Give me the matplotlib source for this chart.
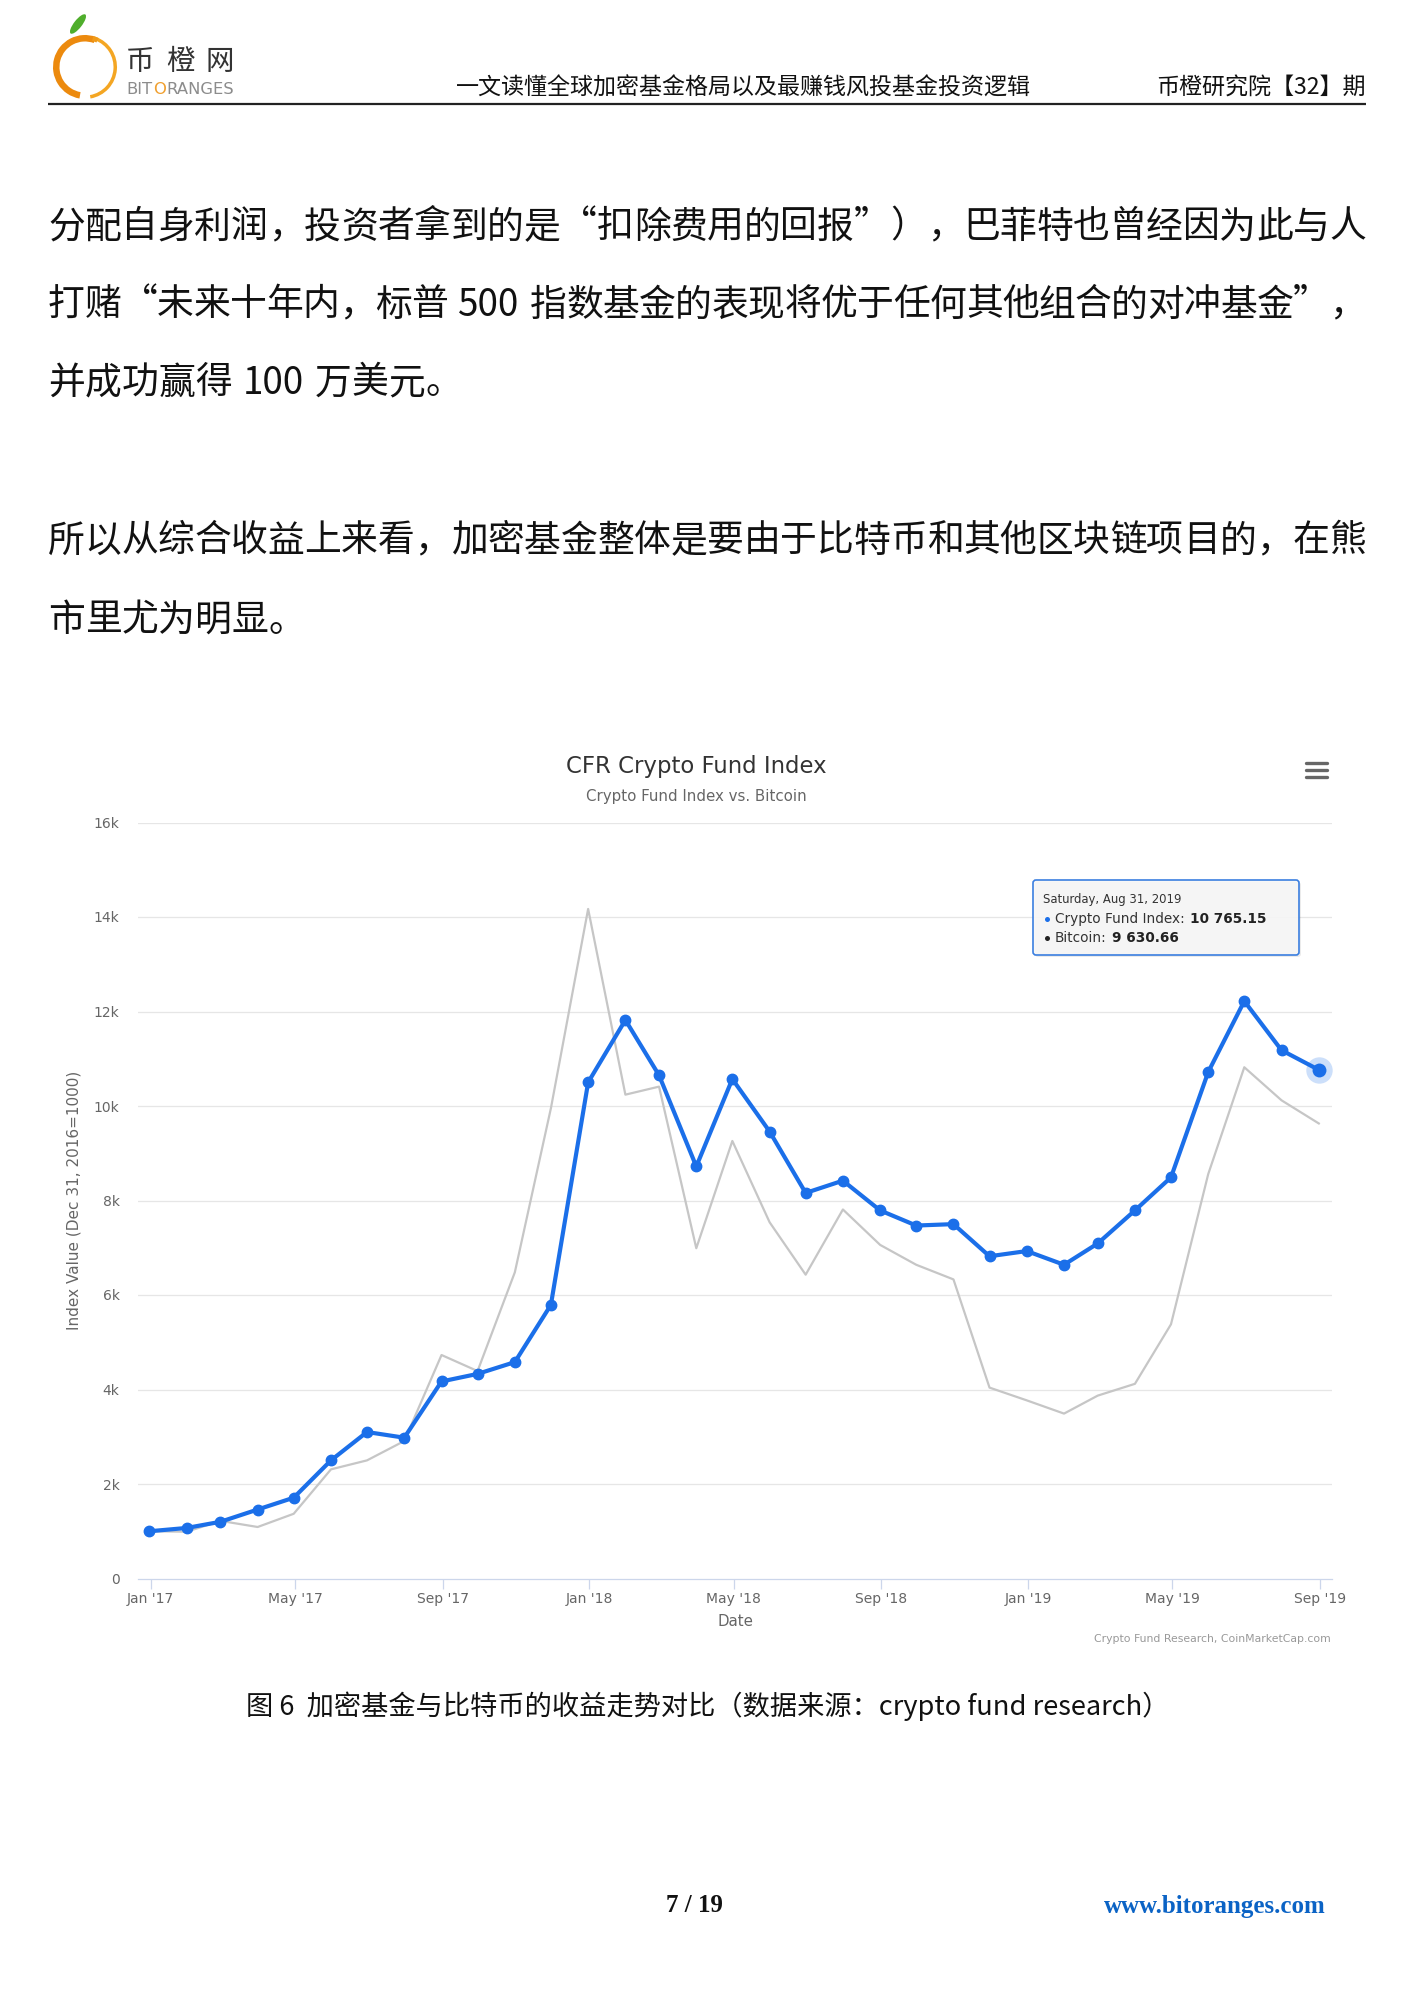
import matplotlib
matplotlib.use("Agg")
import matplotlib.pyplot as plt
import matplotlib.dates as mdates
from matplotlib.patches import FancyBboxPatch, Wedge, Ellipse, Rectangle
from matplotlib.font_manager import FontProperties
import numpy as np

# ---------------- data ----------------
dates = np.array([
    "2016-12-31", "2017-01-31", "2017-02-28", "2017-03-31", "2017-04-30", "2017-05-31",
    "2017-06-30", "2017-07-31", "2017-08-31", "2017-09-30", "2017-10-31", "2017-11-30",
    "2017-12-31", "2018-01-31", "2018-02-28", "2018-03-31", "2018-04-30", "2018-05-31",
    "2018-06-30", "2018-07-31", "2018-08-31", "2018-09-30", "2018-10-31", "2018-11-30",
    "2018-12-31", "2019-01-31", "2019-02-28", "2019-03-31", "2019-04-30", "2019-05-31",
    "2019-06-30", "2019-07-31", "2019-08-31"], dtype="datetime64[D]")

fund_index = [1000, 1070, 1200, 1460, 1710, 2500, 3100, 2980, 4170, 4330, 4580, 5790,
              10500, 11820, 10650, 8720, 10570, 9460, 8160, 8420, 7790, 7470, 7500, 6820,
              6930, 6640, 7090, 7790, 8490, 10720, 12220, 11180, 10765.15]

bitcoin = [1000, 990, 1220, 1090, 1370, 2310, 2500, 2910, 4730, 4390, 6480, 9950,
           14170, 10240, 10410, 6990, 9260, 7540, 6430, 7810, 7060, 6640, 6330, 4040,
           3770, 3490, 3870, 4120, 5380, 8560, 10820, 10120, 9630.66]

tick_dates = np.array(["2017-01-01", "2017-05-01", "2017-09-01", "2018-01-01", "2018-05-01",
                       "2018-09-01", "2019-01-01", "2019-05-01", "2019-09-01"], dtype="datetime64[D]")
tick_labels = ["Jan '17", "May '17", "Sep '17", "Jan '18", "May '18", "Sep '18",
               "Jan '19", "May '19", "Sep '19"]
y_ticks = [0, 2000, 4000, 6000, 8000, 10000, 12000, 14000, 16000]
y_tick_labels = ["0", "2k", "4k", "6k", "8k", "10k", "12k", "14k", "16k"]

chart_title = "CFR Crypto Fund Index"
chart_subtitle = "Crypto Fund Index vs. Bitcoin"
y_label = "Index Value (Dec 31, 2016=1000)"
x_label = "Date"
credits = "Crypto Fund Research, CoinMarketCap.com"
tooltip_date = "Saturday, Aug 31, 2019"
tooltip_names = ["Crypto Fund Index:", "Bitcoin:"]
tooltip_values = ["10 765.15", "9 630.66"]

header_title = "一文读懂全球加密基金格局以及最赚钱风投基金投资逻辑"
header_issue = "币橙研究院【32】期"
body_lines = [
    "分配自身利润，投资者拿到的是“扣除费用的回报”），巴菲特也曾经因为此与人",
    "打赌“未来十年内，标普 500 指数基金的表现将优于任何其他组合的对冲基金”，",
    "并成功赢得 100 万美元。",
    "所以从综合收益上来看，加密基金整体是要由于比特币和其他区块链项目的，在熊",
    "市里尤为明显。",
]
body_justify = [True, True, False, True, False]
body_y = [227, 305, 383, 541, 620]
caption = "图 6  加密基金与比特币的收益走势对比（数据来源：crypto fund research）"
page_no = "7 / 19"
site = "www.bitoranges.com"

# ---------------- figure ----------------
W, H = 1414, 2000
CJK = ["Noto Sans CJK SC", "DejaVu Sans"]
BLUE = "#1b6fe9"
GRAY = "#c6c6c6"

fig = plt.figure(figsize=(W / 100, H / 100), dpi=100)
fig.patch.set_facecolor("white")

ax_bg = fig.add_axes([0, 0, 1, 1], zorder=0)
ax_bg.set_xlim(0, W)
ax_bg.set_ylim(H, 0)
ax_bg.axis("off")

renderer = fig.canvas.get_renderer()

# ---- logo ----
cx, cy, R = 85, 67, 32
ax_bg.add_patch(Wedge((cx, cy), R, -70, 80, width=3.5, facecolor="#f4a623", edgecolor="none"))
ax_bg.add_patch(Wedge((cx, cy), R, 100, 290, width=6.5, facecolor="#ec8a0e", edgecolor="none"))
ax_bg.add_patch(Wedge((cx, cy), R, 285, 295, width=5, facecolor="#f09a18", edgecolor="none"))
ax_bg.add_patch(Ellipse((78, 24), 8, 24, angle=38, facecolor="#4fae2c", edgecolor="none"))
for ch, x in zip("币橙网", [140, 180, 220]):
    ax_bg.text(x, 62, ch, family=CJK, fontsize=20.5, color="#333333", ha="center", va="center")
bx0 = 126
for part, col in [("BIT", "#8c8c8c"), ("O", "#f0a030"), ("RANGES", "#8c8c8c")]:
    t = ax_bg.text(bx0, 89, part, family="DejaVu Sans", fontsize=11.8, color=col,
                   ha="left", va="center")
    bx0 = t.get_window_extent(renderer=renderer).x1 + 0.5

# ---- header ----
ax_bg.text(743, 88, header_title, family=CJK, fontsize=16.6, color="#111111", ha="center", va="center")
ax_bg.text(1366, 88, header_issue, family=CJK, fontsize=16.6, color="#111111", ha="right", va="center")
ax_bg.plot([48, 1366], [104, 104], color="#222222", lw=1.6, solid_capstyle="butt")

# ---- body text ----
X0, X1 = 48, 1366
body_prop = FontProperties(family=CJK, size=26.5)


def tokenize(s):
    toks, cur = [], ""
    for c in s:
        if c.isascii() and c != " ":
            cur += c
        else:
            if cur:
                toks.append(cur)
                cur = ""
            toks.append(c)
    if cur:
        toks.append(cur)
    return toks


def tok_width(t, prop):
    if t == " ":
        return 0.3 * prop.get_size_in_points() * 100 / 72
    return renderer.get_text_width_height_descent(t, prop, ismath=False)[0]


for line, y, just in zip(body_lines, body_y, body_justify):
    toks = tokenize(line)
    ws = [tok_width(t, body_prop) for t in toks]
    gap = (X1 - X0 - sum(ws)) / (len(toks) - 1) if just else 0
    x = X0
    for t, w in zip(toks, ws):
        if t != " ":
            ax_bg.text(x, y, t, fontproperties=body_prop, color="#111111", ha="left", va="center")
        x += w + gap

# ---- chart titles / labels ----
ax_bg.text(696, 767, chart_title, family="DejaVu Sans", fontsize=16.4, color="#333333",
           ha="center", va="center")
ax_bg.text(696, 797, chart_subtitle, family="DejaVu Sans", fontsize=10.8, color="#666666",
           ha="center", va="center")
for yy in [763, 770, 777]:
    ax_bg.plot([1306, 1327], [yy, yy], color="#666666", lw=2.4, solid_capstyle="round")
ax_bg.text(74, 1200, y_label, family="DejaVu Sans", fontsize=11, color="#666666",
           rotation=90, ha="center", va="center")
ax_bg.text(735, 1622, x_label, family="DejaVu Sans", fontsize=10.8, color="#666666",
           ha="center", va="center")
ax_bg.text(1331, 1639, credits, family="DejaVu Sans", fontsize=7.8, color="#999999",
           ha="right", va="center")

# ---- caption / footer ----
ax_bg.text(708, 1706, caption, family=CJK, fontsize=19.6, color="#111111", ha="center", va="center")
ax_bg.text(694, 1906, page_no, family="Liberation Serif", fontsize=18, weight="bold",
           color="#111111", ha="center", va="center")
ax_bg.text(1326, 1907, site, family="Liberation Serif", fontsize=18, weight="bold",
           color="#0b63c5", ha="right", va="center")

# ---------------- chart axes ----------------
PL, PR, PT, PB = 137.7, 1331.7, 822.5, 1578.5
ax = fig.add_axes([PL / W, 1 - PB / H, (PR - PL) / W, (PB - PT) / H], zorder=1)
ax.patch.set_alpha(0)

d0 = mdates.date2num(np.datetime64("2017-01-01"))
d1 = mdates.date2num(np.datetime64("2019-09-01"))
kpx = (1320.0 - 150.7) / (d1 - d0)
ax.set_xlim(d0 - (150.7 - PL) / kpx, d1 + (PR - 1320.0) / kpx)
ax.set_ylim(0, 16000)

xd = mdates.date2num(dates)
ax.plot(xd, bitcoin, color=GRAY, lw=1.6, zorder=2, clip_on=False)
ax.plot(xd, fund_index, color=BLUE, lw=3.0, marker="o", markersize=7.5,
        markerfacecolor=BLUE, markeredgecolor=BLUE, zorder=3, clip_on=False)
ax.plot(xd[-1:], fund_index[-1:], "o", color=BLUE, alpha=0.22, markersize=19,
        markeredgewidth=0, zorder=3, clip_on=False)
ax.plot(xd[-1:], fund_index[-1:], "o", color=BLUE, markersize=10,
        markeredgewidth=0, zorder=4, clip_on=False)

ax.set_yticks(y_ticks)
ax.set_yticklabels(y_tick_labels)
ax.set_xticks(mdates.date2num(tick_dates))
ax.set_xticklabels(tick_labels)
for yv in y_ticks[1:]:
    ax.axhline(yv, color="#e6e6e6", lw=0.9, zorder=1)
for s in ["top", "right", "left"]:
    ax.spines[s].set_visible(False)
ax.spines["bottom"].set_color("#ccd6eb")
ax.spines["bottom"].set_linewidth(0.9)
ax.tick_params(axis="y", length=0, pad=13, labelsize=10, labelcolor="#666666")
ax.tick_params(axis="x", length=7, width=0.9, color="#ccd6eb", direction="out", pad=3,
               labelsize=10, labelcolor="#666666")
for lab in ax.get_xticklabels() + ax.get_yticklabels():
    lab.set_family("DejaVu Sans")

# ---------------- tooltip ----------------
ax_top = fig.add_axes([0, 0, 1, 1], zorder=5)
ax_top.set_xlim(0, W)
ax_top.set_ylim(H, 0)
ax_top.axis("off")
bx, by, bw, bh = 1033, 880, 266, 75
ax_top.add_patch(FancyBboxPatch((bx + 2, by + 2), bw, bh, boxstyle="round,pad=0,rounding_size=3",
                                facecolor="#000000", alpha=0.08, edgecolor="none"))
ax_top.add_patch(FancyBboxPatch((bx, by), bw, bh, boxstyle="round,pad=0,rounding_size=3",
                                facecolor="#f7f7f7", alpha=0.9, edgecolor="none"))
ax_top.add_patch(FancyBboxPatch((bx, by), bw, bh, boxstyle="round,pad=0,rounding_size=3",
                                facecolor="none", edgecolor="#3b7fe0", lw=1.2))
ax_top.text(1043, 900, tooltip_date, family="DejaVu Sans", fontsize=8.4, color="#333333",
            ha="left", va="center")
for i, (nm, val, dc) in enumerate(zip(tooltip_names, tooltip_values, [BLUE, "#222222"])):
    yy = 919 + 19 * i
    ax_top.plot([1047], [yy], "o", color=dc, markersize=3.6, markeredgewidth=0)
    t = ax_top.text(1055, yy, nm, family="DejaVu Sans", fontsize=9.8, color="#333333",
                    ha="left", va="center")
    ext = t.get_window_extent(renderer=renderer)
    ax_top.text(ext.x1 + 5, yy, val, family="DejaVu Sans", fontsize=9.8, weight="bold",
                color="#222222", ha="left", va="center")

fig.savefig("out.png", dpi=100, facecolor="white")
